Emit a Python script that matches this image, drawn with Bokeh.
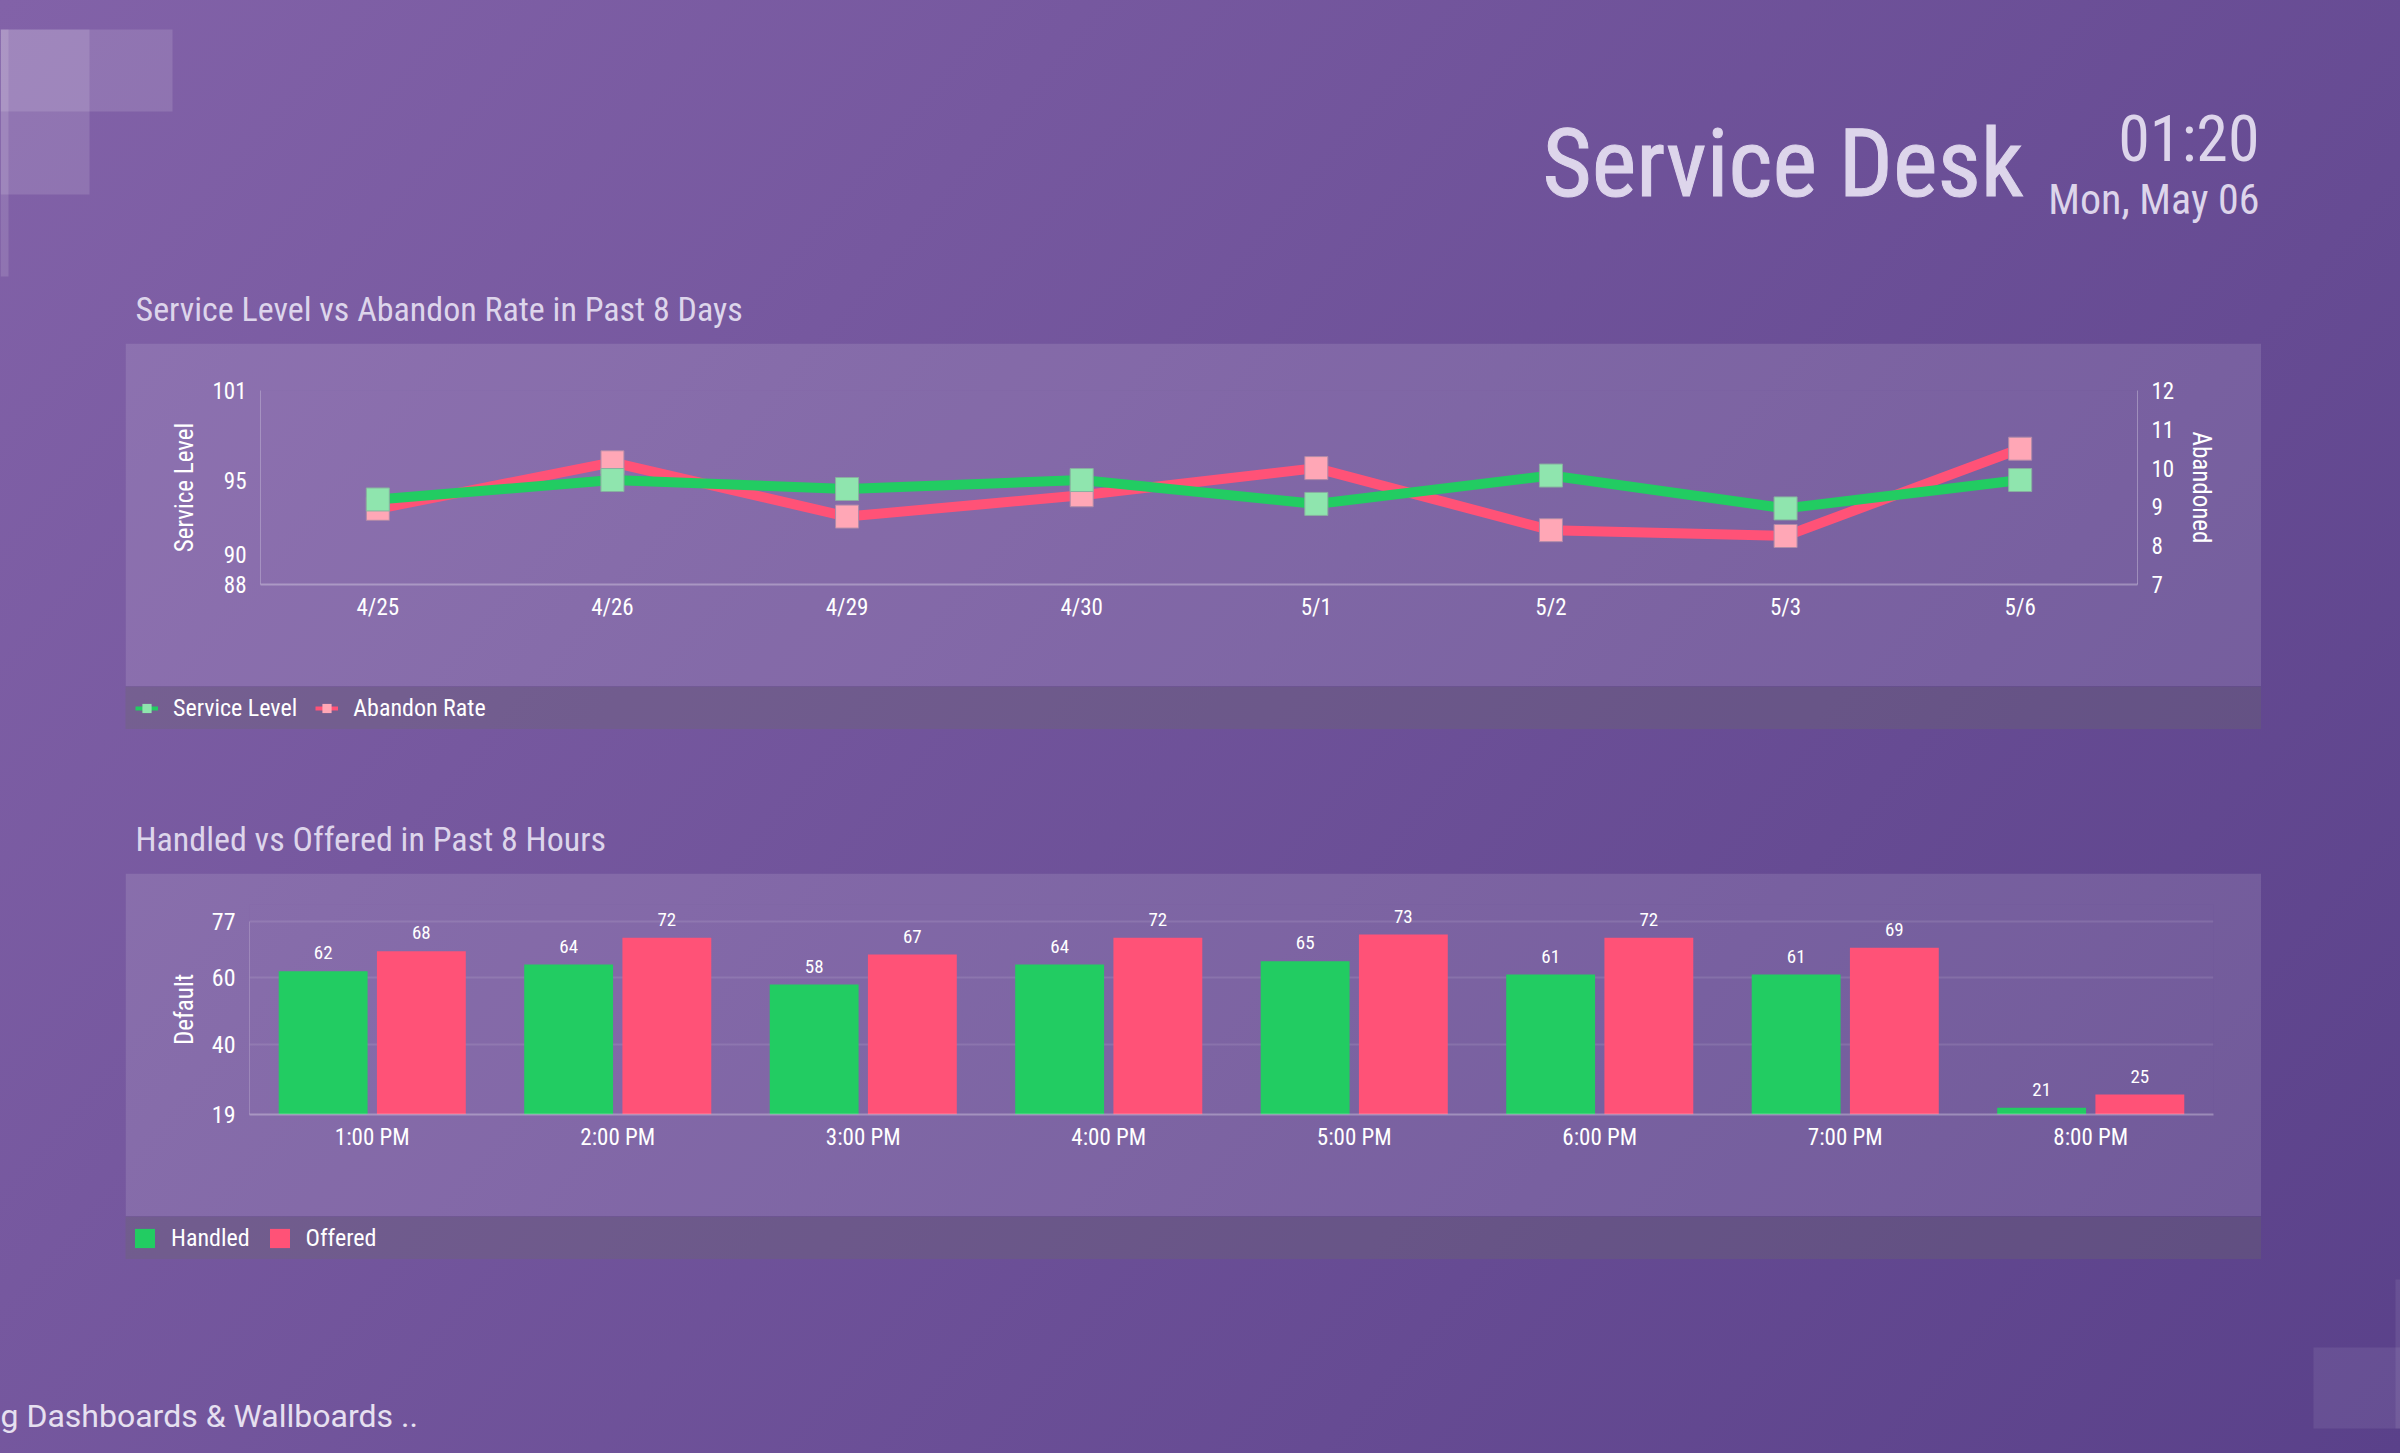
from bokeh.plotting import figure
from bokeh.models import (ColumnDataSource, Range1d, FactorRange, LinearAxis, FixedTicker,
                          Legend, LegendItem, LabelSet, Spacer)
from bokeh.layouts import column, row
from bokeh.transform import dodge
from bokeh.core.properties import value
from bokeh.embed import file_html
from bokeh.resources import INLINE

# ---------------- data ----------------
days = ["4/25", "4/26", "4/29", "4/30", "5/1", "5/2", "5/3", "5/6"]
service_level = [93.7, 95.0, 94.4, 95.0, 93.4, 95.3, 93.1, 95.0]
abandon_rate = [8.95, 10.15, 8.75, 9.3, 10.0, 8.4, 8.25, 10.5]
service_ticks = [88, 90, 95, 101]
abandon_ticks = [7, 8, 9, 10, 11, 12]

hours = ["1:00 PM", "2:00 PM", "3:00 PM", "4:00 PM", "5:00 PM", "6:00 PM", "7:00 PM", "8:00 PM"]
handled = [62, 64, 58, 64, 65, 61, 61, 21]
offered = [68, 72, 67, 72, 73, 72, 69, 25]
default_ticks = [19, 40, 60, 77]

title_main = "Service Desk"
clock_time = "01:20"
clock_date = "Mon, May 06"
title_line = "Service Level vs Abandon Rate in Past 8 Days"
title_bar = "Handled vs Offered in Past 8 Hours"
footer_text = "g Dashboards & Wallboards .."

# ---------------- style ----------------
COND = "Roboto Condensed"
GREEN, PINK = "#22cc62", "#ff5277"
LGREEN, LPINK = "#8fe5ae", "#ffa7b6"
HEAD = "#ddd5eb"
PANEL = "white"
PANEL_ALPHA = 0.12
STRIP = "#696969"
STRIP_ALPHA = 0.3
BG = "linear-gradient(130deg, #8262a8 0%, #5a418a 100%)"
BAR_HEADROOM = 82   # y-range top of the bar plot frame (room for value labels)

W, H = 2400, 1453
PX, PW = 125, 2136


def canvas_fig(w, h):
    p = figure(width=w, height=h, x_range=Range1d(0, w), y_range=Range1d(h, 0),
               x_axis_location=None, y_axis_location=None,
               output_backend="svg", toolbar_location=None, min_border=0)
    p.grid.visible = False
    p.outline_line_color = None
    p.background_fill_color = None
    p.border_fill_color = None
    return p


def add_text(p, x, y, txt, size, color, align="left", font=COND, k=0.33, outline=None):
    # y is the wanted baseline; k compensates the renderer's baseline shift
    return p.text(x=[x], y=[y - k * size], text=[txt], text_font=value(font),
                  text_font_size=f"{size}px", text_outline_color=outline,
                  text_color=color, text_align=align, text_baseline="alphabetic")


# ---------------- header ----------------
head = canvas_fig(W, 343)
head.quad(left=[0, 0, 0], right=[172, 89, 8], top=[29, 29, 29], bottom=[111, 194, 276],
          fill_color="white", fill_alpha=0.13, line_color=None)
add_text(head, 1542, 194, title_main, 95, HEAD, outline=HEAD)
add_text(head, 2259, 160, clock_time, 64, HEAD, "right")
add_text(head, 2259, 213, clock_date, 42, HEAD, "right")
add_text(head, 135, 320, title_line, 34, HEAD)


def style_axis(ax, line_alpha, line_width, label_standoff, tick_standoff):
    ax.axis_line_color = "white"
    ax.axis_line_alpha = line_alpha
    ax.axis_line_width = line_width
    ax.major_tick_line_color = None
    ax.minor_tick_line_color = None
    ax.major_label_text_color = "white"
    ax.major_label_text_font = COND
    ax.major_label_text_font_size = "23px"
    ax.major_label_standoff = tick_standoff
    ax.axis_label_text_color = "white"
    ax.axis_label_text_font = COND
    ax.axis_label_text_font_size = "25px"
    ax.axis_label_text_font_style = "normal"
    ax.axis_label_standoff = label_standoff


def panel_fill(p):
    p.outline_line_color = None
    p.background_fill_color = PANEL
    p.background_fill_alpha = PANEL_ALPHA
    p.border_fill_color = PANEL
    p.border_fill_alpha = PANEL_ALPHA


# ---------------- line chart ----------------
p1 = figure(width=PW, height=343, x_range=FactorRange(factors=days), y_range=Range1d(88, 101),
            output_backend="svg", toolbar_location=None,
            min_border_left=135, min_border_right=124, min_border_top=47, min_border_bottom=102)
p1.extra_y_ranges = {"ab": Range1d(7, 12)}
panel_fill(p1)
p1.grid.visible = False

src1 = ColumnDataSource(dict(day=days, sl=service_level, ar=abandon_rate))
p1.line("day", "ar", source=src1, y_range_name="ab", line_color=PINK, line_width=10,
        line_join="round")
p1.scatter("day", "ar", source=src1, y_range_name="ab", marker="square", size=23,
           fill_color=LPINK, line_color="#b08aa8", line_width=1)
p1.line("day", "sl", source=src1, line_color=GREEN, line_width=10, line_join="round")
p1.scatter("day", "sl", source=src1, marker="square", size=23,
           fill_color=LGREEN, line_color="#88b0a0", line_width=1)

p1.yaxis.ticker = FixedTicker(ticks=service_ticks)
p1.yaxis.axis_label = "Service Level"
style_axis(p1.yaxis[0], 0.25, 1, 10, 8)
style_axis(p1.xaxis[0], 0.3, 2, 10, 3)
right_ax = LinearAxis(y_range_name="ab", ticker=FixedTicker(ticks=abandon_ticks),
                      axis_label="Abandoned")
style_axis(right_ax, 0.3, 1, 10, 8)
p1.add_layout(right_ax, "right")


def strip_fig():
    s = figure(width=PW, height=43, x_range=Range1d(0, 1), y_range=Range1d(0, 1),
               x_axis_location=None, y_axis_location=None,
               output_backend="svg", toolbar_location=None, min_border=0)
    s.grid.visible = False
    s.outline_line_color = None
    s.background_fill_color = STRIP
    s.background_fill_alpha = STRIP_ALPHA
    s.border_fill_color = None
    return s


def style_legend(lg, standoff, spacing, gw, gh, margin=10):
    lg.orientation = "horizontal"
    lg.location = "left"
    lg.margin = margin
    lg.padding = 10
    lg.spacing = spacing
    lg.label_standoff = standoff
    lg.glyph_width = gw
    lg.glyph_height = gh
    lg.background_fill_alpha = 0
    lg.border_line_color = None
    lg.label_text_color = "white"
    lg.label_text_font = COND
    lg.label_text_font_size = "24px"


# legend strips use off-screen sample glyphs only to draw the legend keys
off = ColumnDataSource(dict(x=[-5, -4], y=[-5, -5]))
leg1 = strip_fig()
g_l = leg1.line("x", "y", source=off, line_color=GREEN, line_width=4)
g_s = leg1.scatter("x", "y", source=off, marker="square", size=12, fill_color=LGREEN,
                   line_color=None)
p_l = leg1.line("x", "y", source=off, line_color=PINK, line_width=4)
p_s = leg1.scatter("x", "y", source=off, marker="square", size=12, fill_color=LPINK,
                   line_color=None)
lg1 = Legend(items=[LegendItem(label="Service Level", renderers=[g_l, g_s]),
                    LegendItem(label="Abandon Rate", renderers=[p_l, p_s])])
style_legend(lg1, 15, 18, 23, 30)
leg1.add_layout(lg1, "center")

# ---------------- middle title ----------------
mid = canvas_fig(W, 144)
add_text(mid, 135, 121, title_bar, 34, HEAD)

# ---------------- bar chart ----------------
p2 = figure(width=PW, height=343, x_range=FactorRange(factors=hours),
            y_range=Range1d(default_ticks[0], BAR_HEADROOM),
            output_backend="svg", toolbar_location=None,
            min_border_left=124, min_border_right=48, min_border_top=31, min_border_bottom=102)
panel_fill(p2)
p2.xgrid.visible = False
p2.ygrid.ticker = FixedTicker(ticks=default_ticks)
p2.ygrid.grid_line_color = "white"
p2.ygrid.grid_line_alpha = 0.1
p2.ygrid.grid_line_width = 2

src2 = ColumnDataSource(dict(hour=hours, handled=handled, offered=offered,
                             handled_txt=[str(v) for v in handled],
                             offered_txt=[str(v) for v in offered]))
p2.vbar(x=dodge("hour", -0.2, range=p2.x_range), top="handled", bottom=default_ticks[0],
        width=0.362, source=src2, fill_color=GREEN, line_color=None)
p2.vbar(x=dodge("hour", 0.2, range=p2.x_range), top="offered", bottom=default_ticks[0],
        width=0.362, source=src2, fill_color=PINK, line_color=None)
for offx, col in ((-0.2, "handled"), (0.2, "offered")):
    p2.add_layout(LabelSet(x=dodge("hour", offx, range=p2.x_range), y=col, text=col + "_txt",
                           source=src2, y_offset=12, text_align="center",
                           text_baseline="alphabetic", text_color="white",
                           text_font=value(COND), text_font_size="19px"))

p2.yaxis.ticker = FixedTicker(ticks=default_ticks)
p2.yaxis.axis_label = "Default"
p2.yaxis.bounds = (default_ticks[0], default_ticks[-1])
style_axis(p2.yaxis[0], 0.2, 1, 10, 8)
style_axis(p2.xaxis[0], 0.3, 2, 10, 3)
p2.yaxis.major_label_text_font_size = "24px"

offq = ColumnDataSource(dict(l=[-5], r=[-4], t=[-4], b=[-5]))
leg2 = strip_fig()
h_r = leg2.quad(left="l", right="r", top="t", bottom="b", source=offq,
                fill_color=GREEN, line_color=None)
o_r = leg2.quad(left="l", right="r", top="t", bottom="b", source=offq,
                fill_color=PINK, line_color=None)
lg2 = Legend(items=[LegendItem(label="Handled", renderers=[h_r]),
                    LegendItem(label="Offered", renderers=[o_r])])
style_legend(lg2, 14, 17, 25, 24, margin=7)
leg2.add_layout(lg2, "center")

# ---------------- footer ----------------
foot = canvas_fig(W, 194)
foot.quad(left=[2313, 2395], right=[2400, 2400], top=[88, 20], bottom=[169, 169],
          fill_color="white", fill_alpha=0.08, line_color=None)
add_text(foot, 0, 169, footer_text, 32, "#e6e0f0", font="Roboto", k=0.4)

layout = column(
    head,
    row(Spacer(width=PX, height=343), p1),
    row(Spacer(width=PX, height=43), leg1),
    mid,
    row(Spacer(width=PX, height=343), p2),
    row(Spacer(width=PX, height=43), leg2),
    foot,
    width=W, height=H, spacing=0,
    styles={"background": BG},
)

open("out.html", "w").write(file_html(layout, INLINE))
